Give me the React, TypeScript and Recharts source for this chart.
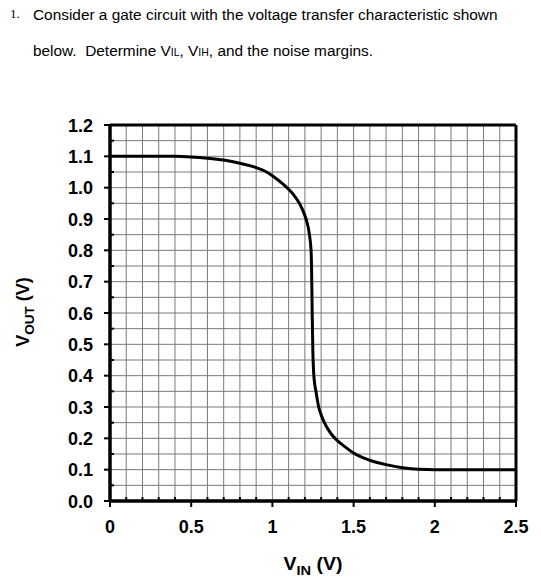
import React from 'react';
import { LineChart, Line, XAxis, YAxis, CartesianGrid, ReferenceLine } from 'recharts';

// Transfer characteristic
const vin = [0, 0.4, 0.5, 0.6, 0.7, 0.8, 0.9, 0.95, 1.0, 1.05, 1.1, 1.13, 1.166, 1.191, 1.207, 1.228, 1.238, 1.241, 1.245, 1.249, 1.254, 1.26, 1.268, 1.285, 1.3, 1.32, 1.35, 1.385, 1.45, 1.5, 1.6, 1.7, 1.8, 1.9, 2.0, 2.5];
const vout = [1.1, 1.1, 1.098, 1.094, 1.088, 1.078, 1.064, 1.054, 1.038, 1.018, 0.995, 0.978, 0.95, 0.923, 0.9, 0.85, 0.8, 0.75, 0.6, 0.48, 0.41, 0.375, 0.35, 0.3, 0.275, 0.25, 0.223, 0.2, 0.172, 0.153, 0.13, 0.116, 0.106, 0.101, 0.1, 0.1];

// Axis ticks
const xTicks = [0, 0.1, 0.2, 0.3, 0.4, 0.5, 0.6, 0.7, 0.8, 0.9, 1.0, 1.1, 1.2, 1.3, 1.4, 1.5, 1.6, 1.7, 1.8, 1.9, 2.0, 2.1, 2.2, 2.3, 2.4, 2.5];
const xMajorTicks = [0, 0.5, 1, 1.5, 2, 2.5];
const xTickLabels = ['0', '0.5', '1', '1.5', '2', '2.5'];
const yTicks = [0, 0.05, 0.1, 0.15, 0.2, 0.25, 0.3, 0.35, 0.4, 0.45, 0.5, 0.55, 0.6, 0.65, 0.7, 0.75, 0.8, 0.85, 0.9, 0.95, 1.0, 1.05, 1.1, 1.15, 1.2];
const yMajorTicks = [0, 0.1, 0.2, 0.3, 0.4, 0.5, 0.6, 0.7, 0.8, 0.9, 1.0, 1.1, 1.2];
const yTickLabels = ['0.0', '0.1', '0.2', '0.3', '0.4', '0.5', '0.6', '0.7', '0.8', '0.9', '1.0', '1.1', '1.2'];

const data = vin.map((v, i) => ({ vin: v, vout: vout[i] }));

const FONT = '"Liberation Sans", Arial, sans-serif';

const findIdx = (arr: number[], v: number) => arr.findIndex((a) => Math.abs(a - v) < 1e-6);

const XTick = (props: any) => {
  const { x, y, payload } = props;
  const idx = findIdx(xMajorTicks, payload.value);
  if (idx >= 0) {
    return (
      <g>
        <line x1={x} y1={y} x2={x} y2={y + 6} stroke="#000" strokeWidth={2} />
        <text x={x} y={y + 32} textAnchor="middle" fontFamily={FONT} fontWeight="bold" fontSize={18} fill="#000">
          {xTickLabels[idx]}
        </text>
      </g>
    );
  }
  return <line x1={x} y1={y} x2={x} y2={y - 4} stroke="#000" strokeWidth={2} />;
};

const YTick = (props: any) => {
  const { x, y, payload } = props;
  const idx = findIdx(yMajorTicks, payload.value);
  if (idx >= 0) {
    return (
      <g>
        <line x1={x} y1={y} x2={x - 6} y2={y} stroke="#000" strokeWidth={2} />
        <text x={x - 17} y={y + 6.5} textAnchor="end" fontFamily={FONT} fontWeight="bold" fontSize={18} fill="#000">
          {yTickLabels[idx]}
        </text>
      </g>
    );
  }
  return <line x1={x} y1={y} x2={x + 4} y2={y} stroke="#000" strokeWidth={2} />;
};

export default function App() {
  return (
    <div style={{ position: 'absolute', left: 0, top: 0, width: 541, height: 585, background: '#fff' }}>
      <LineChart width={541} height={585} data={data} margin={{ top: 125, right: 25, bottom: 0, left: 0 }}>
        <CartesianGrid stroke="#7a7a7a" strokeWidth={1} />
        <XAxis
          type="number"
          dataKey="vin"
          domain={[0, 2.5]}
          ticks={xTicks}
          interval={0}
          tickSize={0}
          tickMargin={0}
          tick={<XTick />}
          axisLine={{ stroke: '#000', strokeWidth: 3.5 }}
          tickLine={false}
          height={84}
        />
        <YAxis
          type="number"
          domain={[0, 1.2]}
          ticks={yTicks}
          interval={0}
          tickSize={0}
          tickMargin={0}
          tick={<YTick />}
          axisLine={{ stroke: '#000', strokeWidth: 3.5 }}
          tickLine={false}
          width={110}
        />
        <ReferenceLine y={1.2} stroke="#000" strokeWidth={3} />
        <ReferenceLine x={2.5} stroke="#000" strokeWidth={3} />
        <Line type="monotone" dataKey="vout" stroke="#000" strokeWidth={3} dot={false} isAnimationActive={false} />
      </LineChart>
      <svg width={541} height={585} style={{ position: 'absolute', left: 0, top: 0, pointerEvents: 'none' }}>
        <text x={10} y={18} fontFamily='"Liberation Serif", "Times New Roman", serif' fontSize={13} fill="#000">1.</text>
        <text x={33} y={19.5} fontFamily={FONT} fontSize={15.4} fill="#000">
          Consider a gate circuit with the voltage transfer characteristic shown
        </text>
        <text x={33} y={56} fontFamily={FONT} fontSize={15.4} fill="#000" style={{ whiteSpace: 'pre' }}>
          {'below.  Determine V'}
          <tspan fontSize={10.5}>IL</tspan>
          {', V'}
          <tspan fontSize={10.5}>IH</tspan>
          {', and the noise margins.'}
        </text>
        <text transform="translate(29,312) rotate(-90)" textAnchor="middle" fontFamily={FONT} fontWeight="bold" fontSize={18} fill="#000">
          V<tspan fontSize={13.5} dy={5}>OUT</tspan>
          <tspan dy={-5}> (V)</tspan>
        </text>
        <text x={313} y={570} textAnchor="middle" fontFamily={FONT} fontWeight="bold" fontSize={18} fill="#000" textLength={59} lengthAdjust="spacingAndGlyphs">
          V<tspan fontSize={13.5} dy={5}>IN</tspan>
          <tspan dy={-5}> (V)</tspan>
        </text>
      </svg>
    </div>
  );
}
